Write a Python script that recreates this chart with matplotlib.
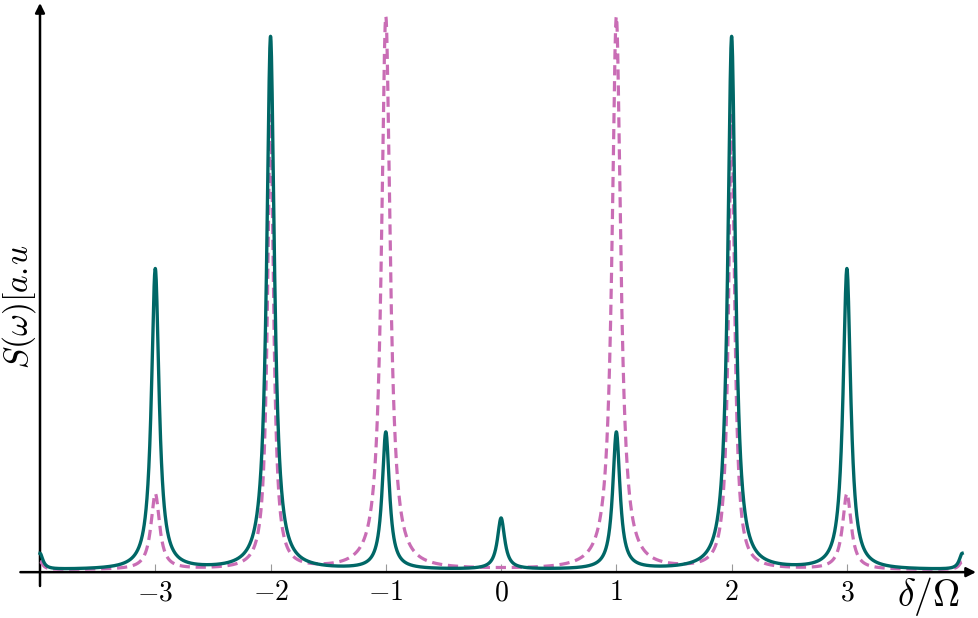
import numpy as np
import matplotlib
matplotlib.use("Agg")
import matplotlib.pyplot as plt

plt.rcParams['mathtext.fontset'] = 'cm'
plt.rcParams['font.family'] = ['DejaVu Serif']

# peak centres (delta / Omega)
centers = [-4, -3, -2, -1, 0, 1, 2, 3, 4]

# solid teal spectrum: peak heights and half widths
teal_heights = [0.03, 0.564, 1.0, 0.257, 0.096, 0.257, 1.0, 0.564, 0.03]
teal_widths = [0.03, 0.04, 0.04, 0.038, 0.038, 0.038, 0.04, 0.04, 0.03]

# dashed pink spectrum: peak heights and half widths
pink_heights = [0.015, 0.142, 0.85, 1.037, 0.0, 1.037, 0.85, 0.142, 0.015]
pink_widths = [0.03, 0.045, 0.032, 0.045, 0.03, 0.045, 0.032, 0.045, 0.03]

tick_pos = [-3, -2, -1, 0, 1, 2, 3]


def spectrum(x, heights, widths):
    s = np.zeros_like(x)
    for c, h, g in zip(centers, heights, widths):
        s += h * g**2 / ((x - c)**2 + g**2)
    return s


def main():
    fig = plt.figure(figsize=(9.79, 6.18), dpi=100)
    x0, x1 = -4.0, 4.12
    y0, y1 = -0.0375, 1.064
    ax = fig.add_axes([40/979, 1 - 590/618, (976-40)/979, (590-3)/618])
    ax.set_xlim(x0, x1)
    ax.set_ylim(y0, y1)

    x = np.linspace(-4, 4, 4001)
    ax.plot(x, spectrum(x, pink_heights, pink_widths), color='#c96db5',
            lw=2.3, dashes=(3.2, 1.8), zorder=3, clip_on=False)
    ax.plot(x, spectrum(x, teal_heights, teal_widths), color='#006766',
            lw=2.4, zorder=4, clip_on=False)

    for s in ax.spines.values():
        s.set_visible(False)
    ya = -0.004
    ax.spines['bottom'].set_position(('data', ya))

    # axis lines with arrows
    ax.annotate('', xy=(x1, ya), xytext=(-4.17, ya), annotation_clip=False,
                arrowprops=dict(arrowstyle='-|>', color='black', lw=1.8,
                                mutation_scale=14, shrinkA=0, shrinkB=0), zorder=2)
    ax.annotate('', xy=(-4.0, y1), xytext=(-4.0, -0.03), annotation_clip=False,
                arrowprops=dict(arrowstyle='-|>', color='black', lw=1.8,
                                mutation_scale=14, shrinkA=0, shrinkB=0), zorder=2)

    ax.set_xticks(tick_pos)
    ax.set_xticklabels([r'$%d$' % t for t in tick_pos], fontsize=20)
    ax.tick_params(axis='x', direction='in', length=6, width=0.8,
                   color='#999999', pad=5)
    ax.set_yticks([])

    fig.text(19/979, 1 - 307/618, r'$S(\omega)[a.\!u$', rotation=90,
             ha='center', va='center', fontsize=24)
    fig.text(928/979, 1 - 596/618, r'$\delta/\Omega$', ha='center',
             va='center', fontsize=27)

    fig.savefig('out.png', dpi=100)


if __name__ == "__main__":
    main()
